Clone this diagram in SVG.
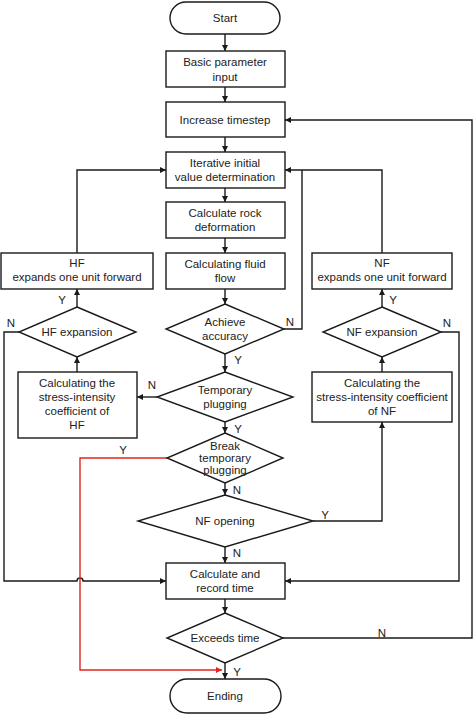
<svg xmlns="http://www.w3.org/2000/svg" width="474" height="715" viewBox="0 0 474 715">
<style>
.s{fill:#fff;stroke:#1a1a1a;stroke-width:1.4}
.c{fill:none;stroke:#1a1a1a;stroke-width:1.4}
.r{fill:none;stroke:#e0241f;stroke-width:1.4}
text{font-family:"Liberation Sans",Arial,sans-serif;font-size:11.5px;fill:#222;text-anchor:middle}
</style>
<defs>
<marker id="a" viewBox="0 0 10 10" refX="10" refY="5" markerWidth="6" markerHeight="6" markerUnits="userSpaceOnUse" orient="auto"><path d="M0,0 L10,5 L0,10 z" fill="#1a1a1a"/></marker>
<marker id="ar" viewBox="0 0 10 10" refX="10" refY="5" markerWidth="6" markerHeight="6" markerUnits="userSpaceOnUse" orient="auto"><path d="M0,0 L10,5 L0,10 z" fill="#e0241f"/></marker>
</defs>
<rect width="474" height="715" fill="#fff"/>
<g id="connectors">
<path class="c" d="M225,34 V51" marker-end="url(#a)"/>
<path class="c" d="M225,87 V102" marker-end="url(#a)"/>
<path class="c" d="M225,137 V152" marker-end="url(#a)"/>
<path class="c" d="M225,188 V202" marker-end="url(#a)"/>
<path class="c" d="M225,238 V253" marker-end="url(#a)"/>
<path class="c" d="M225,289 V304" marker-end="url(#a)"/>
<path class="c" d="M225,354 V372" marker-end="url(#a)"/>
<path class="c" d="M225,422 V433" marker-end="url(#a)"/>
<path class="c" d="M225,483 V495" marker-end="url(#a)"/>
<path class="c" d="M225,547 V563" marker-end="url(#a)"/>
<path class="c" d="M225,599 V613" marker-end="url(#a)"/>
<path class="c" d="M225,663 V679" marker-end="url(#a)"/>
<path class="c" d="M77,307 V289" marker-end="url(#a)"/>
<path class="c" d="M77,253 V170 H166" marker-end="url(#a)"/>
<path class="c" d="M382,307 V289" marker-end="url(#a)"/>
<path class="c" d="M382,253 V170 H285" marker-end="url(#a)"/>
<path class="c" d="M284,329 H302 V170"/>
<path class="c" d="M77,372 V357" marker-end="url(#a)"/>
<path class="c" d="M157,397 H137" marker-end="url(#a)"/>
<path class="c" d="M313,521 H382 V422" marker-end="url(#a)"/>
<path class="c" d="M382,372 V357" marker-end="url(#a)"/>
<path class="c" d="M441,332 H459 V581 H285" marker-end="url(#a)"/>
<path class="c" d="M19,332 H4 V581 H77 A3,3 0 0 1 83,581 H166" marker-end="url(#a)"/>
<path class="c" d="M283,638 H472 V120 H285" marker-end="url(#a)"/>
<path class="r" d="M167,458 H80 V670 H222" marker-end="url(#ar)"/>
<text x="238" y="364">Y</text>
<text x="238" y="433">Y</text>
<text x="237" y="494">N</text>
<text x="237" y="557">N</text>
<text x="237" y="676">Y</text>
<text x="62" y="304">Y</text>
<text x="393" y="304">Y</text>
<text x="290" y="326">N</text>
<text x="11" y="327">N</text>
<text x="447" y="327">N</text>
<text x="152" y="389">N</text>
<text x="325" y="519">Y</text>
<text x="123" y="454">Y</text>
<text x="382" y="637">N</text>
</g>
<g id="start"><rect class="s" x="170" y="2" width="110" height="32" rx="16"/><text x="225" y="22">Start</text></g>
<g id="basic"><rect class="s" x="166" y="51" width="119" height="36"/><text x="225" y="66">Basic parameter</text><text x="225" y="81">input</text></g>
<g id="increase"><rect class="s" x="166" y="102" width="119" height="35"/><text x="225" y="124">Increase timestep</text></g>
<g id="iterative"><rect class="s" x="166" y="152" width="119" height="36"/><text x="225" y="167">Iterative initial</text><text x="225" y="181">value determination</text></g>
<g id="rock"><rect class="s" x="166" y="202" width="119" height="36"/><text x="225" y="217">Calculate rock</text><text x="225" y="231">deformation</text></g>
<g id="fluid"><rect class="s" x="166" y="253" width="119" height="36"/><text x="225" y="268">Calculating fluid</text><text x="225" y="282">flow</text></g>
<g id="accuracy"><polygon class="s" points="225,304 284,329 225,354 166,329"/><text x="225" y="326">Achieve</text><text x="225" y="340">accuracy</text></g>
<g id="hf-forward"><rect class="s" x="1" y="253" width="152" height="36"/><text x="77" y="267">HF</text><text x="77" y="281">expands one unit forward</text></g>
<g id="nf-forward"><rect class="s" x="312" y="253" width="140" height="36"/><text x="382" y="267">NF</text><text x="382" y="281">expands one unit forward</text></g>
<g id="hf-expansion"><polygon class="s" points="77,307 136,332 77,357 19,332"/><text x="77" y="336">HF expansion</text></g>
<g id="nf-expansion"><polygon class="s" points="382,307 441,332 382,357 323,332"/><text x="382" y="336">NF expansion</text></g>
<g id="hf-stress"><rect class="s" x="18" y="372" width="119" height="66"/><text x="77" y="387">Calculating the</text><text x="77" y="401">stress-intensity</text><text x="77" y="415">coefficient of</text><text x="77" y="429">HF</text></g>
<g id="nf-stress"><rect class="s" x="312" y="372" width="140" height="50"/><text x="382" y="387">Calculating the</text><text x="382" y="401">stress-intensity coefficient</text><text x="382" y="415">of NF</text></g>
<g id="temporary"><polygon class="s" points="225,372 293,397 225,422 157,397"/><text x="225" y="394">Temporary</text><text x="225" y="408">plugging</text></g>
<g id="break"><polygon class="s" points="225,433 283,458 225,483 167,458"/><text x="225" y="450">Break</text><text x="225" y="462">temporary</text><text x="225" y="474">plugging</text></g>
<g id="nf-opening"><polygon class="s" points="225,495 313,521 225,547 138,521"/><text x="225" y="525">NF opening</text></g>
<g id="record"><rect class="s" x="166" y="563" width="119" height="36"/><text x="225" y="578">Calculate and</text><text x="225" y="592">record time</text></g>
<g id="exceeds"><polygon class="s" points="225,613 283,638 225,663 167,638"/><text x="225" y="642">Exceeds time</text></g>
<g id="ending"><rect class="s" x="170" y="679" width="111" height="34" rx="17"/><text x="225" y="700">Ending</text></g>
</svg>
